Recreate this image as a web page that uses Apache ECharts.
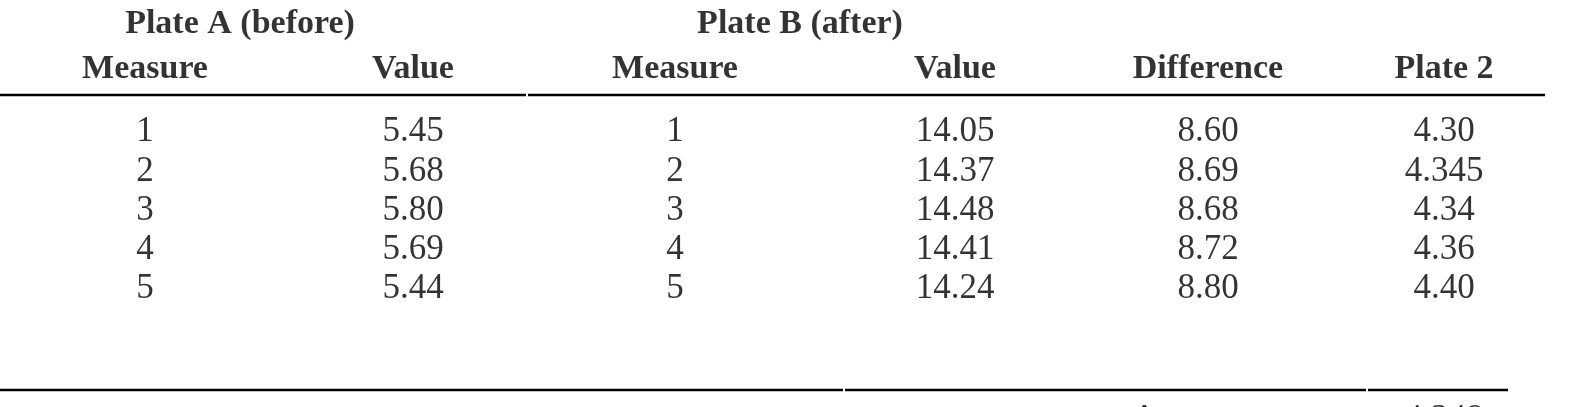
<!DOCTYPE html>
<html><head><meta charset="utf-8">
<script src="https://cdn.jsdelivr.net/npm/echarts@6/dist/echarts.min.js"></script>
<style>html,body{margin:0;padding:0;background:#fff}#c{width:1590px;height:407px}</style>
</head><body><div id="c"></div>
<script>
const groupHeaders = ["Plate A (before)", "Plate B (after)"];
const columnHeaders = ["Measure", "Value", "Measure", "Value", "Difference", "Plate 2"];
const measureA = ["1", "2", "3", "4", "5"];
const valueA = ["5.45", "5.68", "5.80", "5.69", "5.44"];
const measureB = ["1", "2", "3", "4", "5"];
const valueB = ["14.05", "14.37", "14.48", "14.41", "14.24"];
const difference = ["8.60", "8.69", "8.68", "8.72", "8.80"];
const plate2 = ["4.30", "4.345", "4.34", "4.36", "4.40"];
const footer = ["Average", "4.348"];

// layout
const colX = [145, 413, 675, 955, 1208, 1444];
const groupX = [240, 800];
const rowY = [132, 172, 211, 250, 289];
const columns = [measureA, valueA, measureB, valueB, difference, plate2];
const font = "'Liberation Serif', 'DejaVu Serif', serif";

const bodyData = [];
columns.forEach((col, ci) => col.forEach((v, ri) => bodyData.push({value: [colX[ci], rowY[ri]], label: {formatter: v}})));
const headData = [];
groupHeaders.forEach((h, i) => headData.push({value: [groupX[i], 24], label: {formatter: h}}));
columnHeaders.forEach((h, i) => headData.push({value: [colX[i], 69], label: {formatter: h}}));
const footData = [{value: [1190, 420], label: {formatter: footer[0]}}, {value: [colX[5], 420], label: {formatter: footer[1]}}];

const chart = echarts.init(document.getElementById('c'));
const base = {type: 'scatter', symbolSize: 0, silent: true, animation: false, clip: false};
chart.setOption({
  animation: false,
  grid: {left: 0, right: 0, top: 0, bottom: 0},
  xAxis: {type: 'value', min: 0, max: 1590, show: false},
  yAxis: {type: 'value', min: 0, max: 407, inverse: true, show: false},
  series: [
    Object.assign({}, base, {data: bodyData, label: {show: true, position: 'inside', fontFamily: font, fontSize: 35, color: '#000'}}),
    Object.assign({}, base, {data: headData, label: {show: true, position: 'inside', fontFamily: font, fontSize: 34, fontWeight: 'bold', color: '#000'}}),
    Object.assign({}, base, {data: footData, label: {show: true, position: 'inside', fontFamily: font, fontSize: 35, color: '#000'}})
  ],
  graphic: [
    {type: 'line', shape: {x1: 0, y1: 95, x2: 526, y2: 95}, style: {stroke: '#000', lineWidth: 2.5}},
    {type: 'line', shape: {x1: 528, y1: 95, x2: 1545, y2: 95}, style: {stroke: '#000', lineWidth: 2.5}},
    {type: 'line', shape: {x1: 0, y1: 390, x2: 843, y2: 390}, style: {stroke: '#000', lineWidth: 2.5}},
    {type: 'line', shape: {x1: 845, y1: 390, x2: 1366, y2: 390}, style: {stroke: '#000', lineWidth: 2.5}},
    {type: 'line', shape: {x1: 1368, y1: 390, x2: 1508, y2: 390}, style: {stroke: '#000', lineWidth: 2.5}}
  ]
});
</script></body></html>
